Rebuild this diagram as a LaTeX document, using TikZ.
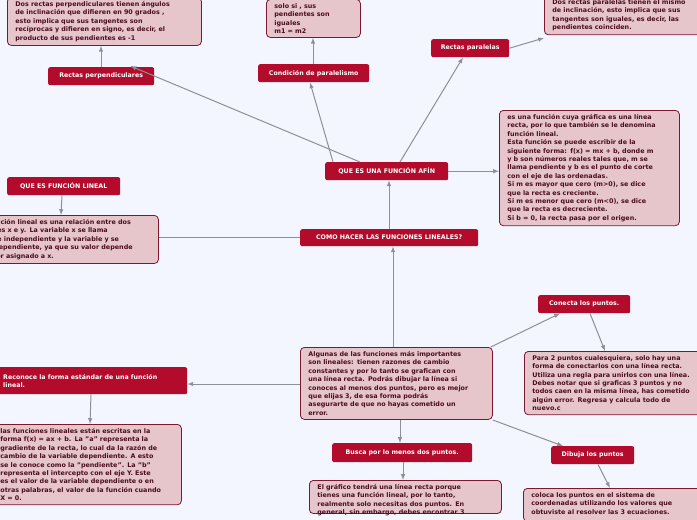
\documentclass[tikz,border=0pt]{standalone}
\usepackage{fontspec}
\setmainfont{DejaVu Sans}
\definecolor{bg}{HTML}{F3F6FE}
\definecolor{lab}{HTML}{B30B2B}
\definecolor{boxf}{HTML}{E6C6CB}
\definecolor{boxd}{HTML}{7A1830}
\definecolor{txt}{HTML}{4A0E1E}
\definecolor{arr}{HTML}{8C9099}
\begin{document}
\begin{tikzpicture}[x=1pt,y=-1pt,
  lbl/.style={fill=lab,rounded corners=2pt,text=white,font=\fontsize{6.3}{8}\selectfont\bfseries,inner sep=0pt,anchor=north west},
  tbox/.style={fill=boxf,draw=boxd,line width=0.8pt,rounded corners=4pt,text=txt,font=\fontsize{6.4}{8.4}\selectfont\bfseries,align=left,anchor=north west,inner xsep=8pt,inner ysep=4pt},
  con/.style={draw=arr,line width=1pt,-latex},
  con0/.style={draw=arr,line width=1pt}]
\useasboundingbox (0,0) rectangle (697,520);
\clip (0,0) rectangle (697,520);
\fill[bg] (0,0) rectangle (697,520);

% labels
\node[lbl,minimum width=106pt,minimum height=18pt] (perp) at (48,67) {Rectas perpendiculares};
\node[lbl,minimum width=111pt,minimum height=18pt] (cond) at (258,64) {Condición de paralelismo};
\node[lbl,minimum width=78pt,minimum height=18pt] (par) at (431,39) {Rectas paralelas};
\node[lbl,minimum width=123pt,minimum height=18pt] (afin) at (325,162) {QUE ES UNA FUNCIÓN AFÍN};
\node[lbl,minimum width=113pt,minimum height=18pt] (lin) at (7,177) {QUE ES FUNCIÓN LINEAL};
\node[lbl,minimum width=178pt,minimum height=17pt] (como) at (300,229) {COMO HACER LAS FUNCIONES LINEALES?};
\node[lbl,minimum width=92pt,minimum height=18pt] (conecta) at (538,295) {Conecta los puntos.};
\node[lbl,minimum width=140pt,minimum height=19pt] (busca) at (332,443) {Busca por lo menos dos puntos.};
\node[lbl,minimum width=83pt,minimum height=18pt] (dibuja) at (551,446) {Dibuja los puntos};
\node[lbl,minimum width=192pt,minimum height=27pt,align=left,text width=176pt,inner xsep=8pt] (recon) at (-5,367) {Reconoce la forma estándar de una función\\lineal.};

% text boxes
\node[tbox,text width=178pt] (perpt) at (7,-3) {Dos rectas perpendiculares tienen ángulos\\de inclinación que difieren en 90 grados ,\\esto implica que sus tangentes son\\recíprocas y difieren en signo, es decir,  el\\producto de sus pendientes es -1};
\node[tbox,text width=78pt] (condt) at (266,-1) {solo si , sus\\pendientes son\\iguales\\m1 = m2};
\node[tbox,text width=160pt] (part) at (544,-5) {Dos rectas paralelas tienen el mismo\\de inclinación, esto implica que sus\\tangentes son iguales, es decir, las\\pendientes coinciden.};
\node[tbox,text width=164pt] (afint) at (499,110) {es una función cuya gráfica es una línea\\recta, por lo que también se le denomina\\función lineal.\\Esta función se puede escribir de la\\siguiente forma: f(x) = mx + b, donde m\\y b son números reales tales que, m se\\llama pendiente y b es el punto de corte\\con el eje de las ordenadas.\\Si m es mayor que cero (m>0), se dice\\que la recta es creciente.\\Si m es menor que cero (m<0), se dice\\que la recta es decreciente.\\Si b = 0, la recta pasa por el origen.};
\node[tbox,text width=178pt] (lint) at (-36,215) {Una función lineal es una relación entre dos\\variables x e y. La variable x se llama\\variable independiente y la variable y se\\llama dependiente, ya que su valor depende\\del valor asignado a x.};
\node[tbox,text width=176pt] (main) at (300,347) {Algunas de las funciones más importantes\\son lineales: tienen razones de cambio\\constantes y por lo tanto se grafican con\\una línea recta. Podrás dibujar la línea si\\conoces al menos dos puntos, pero es mejor\\que elijas 3, de esa forma podrás\\asegurarte de que no hayas cometido un\\error.};
\node[tbox,text width=178pt] (parat) at (524,351) {Para 2 puntos cualesquiera, solo hay una\\forma de conectarlos con una línea recta.\\Utiliza una regla para unirlos con una línea.\\Debes notar que si graficas 3 puntos y no\\todos caen en la misma línea, has cometido\\algún error. Regresa y calcula todo de\\nuevo.c};
\node[tbox,text width=176pt,inner xsep=5pt] (last) at (-5,424) {las funciones lineales están escritas en la\\forma f(x) = ax + b. La "a" representa la\\gradiente de la recta, lo cual da la razón de\\cambio de la variable dependiente. A esto\\se le conoce como la "pendiente". La "b"\\representa el intercepto con el eje Y. Este\\es el valor de la variable dependiente o en\\otras palabras, el valor de la función cuando\\X = 0.};
\node[tbox,text width=176pt,text depth=20pt] (graf) at (309,480) {El gráfico tendrá una línea recta porque\\tienes una función lineal, por lo tanto,\\realmente solo necesitas dos puntos. En\\general, sin embargo, debes encontrar 3};
\node[tbox,text width=176pt,text depth=20pt] (colt) at (523,488) {coloca los puntos en el sistema de\\coordenadas utilizando los valores que\\obtuviste al resolver las 3 ecuaciones.};

% connectors
\draw[con] ([xshift=35pt]afin.north west) -- ([xshift=-24pt,yshift=1pt]perp.north east);
\draw[con] ([xshift=8pt]afin.north west) -- ([xshift=52pt]cond.south west);
\draw[con] ([xshift=75pt]afin.north west) -- ([xshift=32pt]par.south west);
\draw[con] (afin.east) -- (afint.west |- afin.east);
\draw[con] (como.north -| 389,0) -- (afin.south -| 389,0);
\draw[con0] (como.west) -- (lint.east |- como.west);
\draw[con] (lin.south -| 62,0) -- (lint.north -| 61,0);
\draw[con] (main.north -| 393,0) -- (como.south -| 393,0);
\draw[con] ([xshift=-2pt]main.north east) -- ([xshift=22pt]conecta.south west);
\draw[con] ([xshift=52pt]conecta.south west) -- ([xshift=81pt]parat.north west);
\draw[con] (main.west |- 0,384) -- (recon.east |- 0,384);
\draw[con] (recon.south -| 91,0) -- (last.north -| 90,0);
\draw[con] (main.south -| 400,0) -- (busca.north -| 400,0);
\draw[con] (busca.south -| 403,0) -- (graf.north -| 403,0);
\draw[con] (main.east |- 0,420) -- ([xshift=12pt]dibuja.north west);
\draw[con] ([xshift=47pt]dibuja.south west) -- ([xshift=87pt]colt.north west);
\draw[con] (perp.north -| 101,0) -- (perpt.south -| 101,0);
\draw[con] (cond.north -| 313,0) -- (condt.south -| 313,0);
\draw[con] (par.east) -- (part.west |- 0,38);
\end{tikzpicture}
\end{document}
